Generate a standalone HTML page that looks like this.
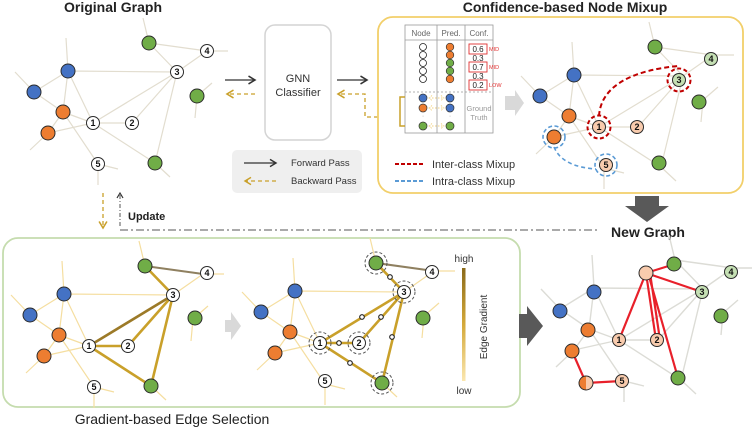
<!DOCTYPE html>
<html><head><meta charset="utf-8"><style>
body{margin:0;background:#fff}
svg{display:block;font-family:"Liberation Sans",sans-serif}
.e{stroke:#e2ddcf;stroke-width:1.2;fill:none}
.ey{stroke:#f5dea0;stroke-width:1.2;fill:none}
.eg{stroke:#c9a02a;stroke-width:2.6;fill:none}
.ex{stroke:#dcdcd6;stroke-width:1.4;fill:none}
.nd{stroke:#2b2b2b;stroke-width:1}
.t{font-size:9px;text-anchor:middle;dominant-baseline:central;fill:#111;font-weight:bold}
</style></head><body>
<svg width="752" height="429" viewBox="0 0 752 429" xmlns="http://www.w3.org/2000/svg">
<defs>
<marker id="ab" markerWidth="8" markerHeight="8" refX="6" refY="4" orient="auto"><path d="M1,1 L6,4 L1,7" fill="none" stroke="#333" stroke-width="1.2"/></marker>
<marker id="ay" markerWidth="8" markerHeight="8" refX="6" refY="4" orient="auto"><path d="M1,1 L6,4 L1,7" fill="none" stroke="#c9a02a" stroke-width="1.2"/></marker>
<linearGradient id="cb" x1="0" y1="0" x2="0" y2="1"><stop offset="0" stop-color="#8a6a1a"/><stop offset="0.5" stop-color="#d4a93a"/><stop offset="1" stop-color="#fbe7b0"/></linearGradient>
</defs>

<text x="113" y="12" font-size="14" font-weight="bold" text-anchor="middle" fill="#222">Original Graph</text>
<text x="565" y="12" font-size="14" font-weight="bold" text-anchor="middle" fill="#222">Confidence-based Node Mixup</text>
<text x="648" y="237" font-size="14" font-weight="bold" text-anchor="middle" fill="#222">New Graph</text>
<text x="172" y="424" font-size="14" text-anchor="middle" fill="#222">Gradient-based Edge Selection</text>

<g>
<path class="e" d="M68,71L34,92M68,71L63,112M68,71L93,123M68,71L177,72M34,92L63,112M63,112L93,123M63,112L48,133M63,112L98,164M48,133L93,123M93,123L132,123M93,123L177,72M93,123L155,163M132,123L177,72M177,72L149,43M177,72L207,51M177,72L155,163M149,43L207,51M68,71L66,38M34,92L15,72M48,133L30,150M149,43L143,18M207,51L228,51M197,96L212,83M197,96L195,118M155,163L170,177M98,164L98,185M98,164L118,169"/>
<circle class="nd" cx="68" cy="71" r="7" fill="#4472c4"/><circle class="nd" cx="34" cy="92" r="7" fill="#4472c4"/>
<circle class="nd" cx="63" cy="112" r="7" fill="#ed7d31"/><circle class="nd" cx="48" cy="133" r="7" fill="#ed7d31"/>
<circle class="nd" cx="149" cy="43" r="7" fill="#70ad47"/><circle class="nd" cx="197" cy="96" r="7" fill="#70ad47"/><circle class="nd" cx="155" cy="163" r="7" fill="#70ad47"/>
<circle class="nd" cx="93" cy="123" r="6.5" fill="#fff"/><text class="t" x="93" y="123">1</text>
<circle class="nd" cx="132" cy="123" r="6.5" fill="#fff"/><text class="t" x="132" y="123">2</text>
<circle class="nd" cx="177" cy="72" r="6.5" fill="#fff"/><text class="t" x="177" y="72">3</text>
<circle class="nd" cx="207" cy="51" r="6.5" fill="#fff"/><text class="t" x="207" y="51">4</text>
<circle class="nd" cx="98" cy="164" r="6.5" fill="#fff"/><text class="t" x="98" y="164">5</text>
</g>

<rect x="265" y="25" width="66" height="115" rx="10" fill="#fff" stroke="#d4d4d4" stroke-width="1.5"/>
<text x="298" y="82" font-size="11" text-anchor="middle" fill="#333">GNN</text>
<text x="298" y="96" font-size="11" text-anchor="middle" fill="#333">Classifier</text>
<line x1="225" y1="80" x2="255" y2="80" stroke="#333" stroke-width="1.3" marker-end="url(#ab)"/>
<line x1="255" y1="94" x2="227" y2="94" stroke="#c9a02a" stroke-width="1.3" stroke-dasharray="4,3" marker-end="url(#ay)"/>
<line x1="337" y1="80" x2="367" y2="80" stroke="#333" stroke-width="1.3" marker-end="url(#ab)"/>
<path d="M392,117 L365,117 L365,94 L338,94" fill="none" stroke="#c9a02a" stroke-width="1.3" stroke-dasharray="4,3" marker-end="url(#ay)"/>
<rect x="232" y="150" width="130" height="43" rx="5" fill="#efefef"/>
<line x1="244" y1="163" x2="276" y2="163" stroke="#333" stroke-width="1.2" marker-end="url(#ab)"/>
<line x1="276" y1="181" x2="245" y2="181" stroke="#c9a02a" stroke-width="1.2" stroke-dasharray="4,3" marker-end="url(#ay)"/>
<text x="291" y="166" font-size="9.5" fill="#333">Forward Pass</text>
<text x="291" y="184" font-size="9.5" fill="#333">Backward Pass</text>

<line x1="103" y1="193" x2="103" y2="228" stroke="#c9a02a" stroke-width="1.3" stroke-dasharray="4,3" marker-end="url(#ay)"/>
<line x1="120" y1="226" x2="120" y2="193" stroke="#555" stroke-width="1" stroke-dasharray="4,2,1,2" marker-end="url(#ab)"/>
<text x="128" y="220" font-size="11" font-weight="bold" fill="#222">Update</text>
<line x1="120" y1="230" x2="600" y2="230" stroke="#777" stroke-width="1.2" stroke-dasharray="8,3,2,3"/>

<rect x="378" y="17" width="365" height="176" rx="15" fill="#fff" stroke="#f2cf6a" stroke-width="1.8"/>
<g stroke="#9a9a9a" stroke-width="0.8" fill="none">
<rect x="405" y="25" width="88" height="108"/>
<line x1="437" y1="25" x2="437" y2="133"/><line x1="465" y1="25" x2="465" y2="133"/>
<line x1="405" y1="40" x2="493" y2="40"/>
</g>
<line x1="405" y1="92" x2="493" y2="92" stroke="#999" stroke-width="0.8" stroke-dasharray="2,2"/>
<text x="421" y="36" font-size="8" text-anchor="middle" fill="#666">Node</text>
<text x="451" y="36" font-size="8" text-anchor="middle" fill="#666">Pred.</text>
<text x="479" y="36" font-size="8" text-anchor="middle" fill="#666">Conf.</text>
<g stroke="#222" stroke-width="0.8" fill="#fff">
<circle cx="423" cy="47" r="3.5"/><circle cx="423" cy="55" r="3.5"/><circle cx="423" cy="63" r="3.5"/><circle cx="423" cy="71" r="3.5"/><circle cx="423" cy="79" r="3.5"/>
</g>
<g stroke="#333" stroke-width="0.7">
<circle cx="450" cy="47" r="3.8" fill="#ed7d31"/><circle cx="450" cy="55" r="3.8" fill="#ed7d31"/><circle cx="450" cy="63" r="3.8" fill="#70ad47"/><circle cx="450" cy="71" r="3.8" fill="#70ad47"/><circle cx="450" cy="79" r="3.8" fill="#ed7d31"/>
<circle cx="423" cy="98" r="4" fill="#4472c4"/><circle cx="450" cy="98" r="4" fill="#4472c4"/>
<circle cx="423" cy="108" r="4" fill="#ed7d31"/><circle cx="450" cy="108" r="4" fill="#4472c4"/>
<circle cx="423" cy="126" r="4" fill="#70ad47"/><circle cx="450" cy="126" r="4" fill="#70ad47"/>
</g>
<g stroke="#f0d080" stroke-width="0.9" stroke-dasharray="1.5,1.5" fill="none">
<path d="M429,98H444M432,95.5L429,98L432,100.5M441,95.5L444,98L441,100.5"/>
<path d="M429,108H444M432,105.5L429,108L432,110.5M441,105.5L444,108L441,110.5"/>
<path d="M429,126H444M432,123.5L429,126L432,128.5M441,123.5L444,126L441,128.5"/>
</g>
<text x="423" y="118" font-size="7" fill="#999" text-anchor="middle">·</text>
<text x="450" y="118" font-size="7" fill="#999" text-anchor="middle">·</text>
<text x="479" y="111" font-size="7.5" fill="#999" text-anchor="middle">Ground</text>
<text x="479" y="120" font-size="7.5" fill="#999" text-anchor="middle">Truth</text>
<g font-size="8" fill="#222" text-anchor="middle">
<text x="478" y="52">0.6</text><text x="478" y="61">0.3</text><text x="478" y="70">0.7</text><text x="478" y="79">0.3</text><text x="478" y="88">0.2</text>
</g>
<g stroke="#e03030" stroke-width="0.9" fill="none"><rect x="469" y="44" width="18" height="10"/><rect x="469" y="62" width="18" height="10"/><rect x="469" y="80" width="18" height="10"/></g>
<g font-size="5.5" fill="#e03030"><text x="489" y="51">MID</text><text x="489" y="69">MID</text><text x="489" y="87">LOW</text></g>
<path d="M405,97 H400 V126 H405" fill="none" stroke="#c9a02a" stroke-width="1.5"/>
<path d="M505,96 h10 v-6 l9,13 l-9,13 v-6 h-10z" fill="#d9d9d9"/>
<line x1="395" y1="164" x2="425" y2="164" stroke="#c00000" stroke-width="2" stroke-dasharray="4,2"/>
<line x1="395" y1="181" x2="425" y2="181" stroke="#5b9bd5" stroke-width="2" stroke-dasharray="4,2"/>
<text x="432" y="168" font-size="11" fill="#333">Inter-class Mixup</text>
<text x="432" y="185" font-size="11" fill="#333">Intra-class Mixup</text>

<g transform="translate(506,4)">
<path class="e" d="M68,71L34,92M68,71L63,112M68,71L93,123M68,71L177,72M34,92L63,112M63,112L93,123M63,112L48,133M63,112L98,164M48,133L93,123M93,123L132,123M93,123L177,72M93,123L155,163M132,123L177,72M177,72L149,43M177,72L207,51M177,72L155,163M149,43L207,51M68,71L66,38M34,92L15,72M48,133L30,150M149,43L143,18M207,51L228,51M197,96L212,83M197,96L195,118M155,163L170,177M98,164L98,185M98,164L118,169"/>
<path d="M93,112 C95,80 130,66 172,62" fill="none" stroke="#c00000" stroke-width="2" stroke-dasharray="5,3"/>
<path d="M48,143 C55,160 75,164 90,165" fill="none" stroke="#5b9bd5" stroke-width="1.6" stroke-dasharray="4,3"/>
<circle cx="93" cy="123" r="11.5" fill="none" stroke="#c00000" stroke-width="2" stroke-dasharray="4,2.5"/>
<circle cx="173" cy="76" r="11.5" fill="none" stroke="#c00000" stroke-width="2" stroke-dasharray="4,2.5"/>
<circle cx="48" cy="133" r="11" fill="none" stroke="#5b9bd5" stroke-width="1.6" stroke-dasharray="4,2.5"/>
<circle cx="100" cy="161" r="11" fill="none" stroke="#5b9bd5" stroke-width="1.6" stroke-dasharray="4,2.5"/>
<circle class="nd" cx="68" cy="71" r="7" fill="#4472c4"/><circle class="nd" cx="34" cy="92" r="7" fill="#4472c4"/>
<circle class="nd" cx="63" cy="112" r="7" fill="#ed7d31"/><circle class="nd" cx="48" cy="133" r="7" fill="#ed7d31"/>
<circle class="nd" cx="149" cy="43" r="7" fill="#70ad47"/><circle class="nd" cx="193" cy="98" r="7" fill="#70ad47"/><circle class="nd" cx="153" cy="159" r="7" fill="#70ad47"/>
<circle class="nd" cx="93" cy="123" r="6.5" fill="#f8cbad"/><text class="t" x="93" y="123">1</text>
<circle class="nd" cx="131" cy="123" r="6.5" fill="#f8cbad"/><text class="t" x="131" y="123">2</text>
<circle class="nd" cx="173" cy="76" r="6.5" fill="#c5e0b4"/><text class="t" x="173" y="76">3</text>
<circle class="nd" cx="205" cy="55" r="6.5" fill="#c5e0b4"/><text class="t" x="205" y="55">4</text>
<circle class="nd" cx="100" cy="161" r="6.5" fill="#f8cbad"/><text class="t" x="100" y="161">5</text>
</g>

<path d="M635,196 h24 v10 h10 l-22,16 l-22,-16 h10z" fill="#595959"/>

<rect x="3" y="238" width="517" height="169" rx="15" fill="#fff" stroke="#c5dcae" stroke-width="1.8"/>

<g transform="translate(-4,223)">
<path class="ey" d="M68,71L34,92M68,71L63,112M68,71L93,123M68,71L177,72M34,92L63,112M63,112L93,123M63,112L48,133M63,112L98,164M48,133L93,123M68,71L66,38M34,92L15,72M48,133L30,150M149,43L143,18M207,51L228,51M197,96L212,83M197,96L195,118M155,163L170,177M98,164L98,185M98,164L118,169M177,72L207,51"/>
<path class="eg" d="M93,123L132,123M93,123L155,163M132,123L177,72M177,72L149,43M177,72L155,163"/>
<path d="M93,123L177,72" stroke="#9c7a28" stroke-width="2.6" fill="none"/>
<path d="M149,43L207,51" stroke="#8f8060" stroke-width="2" fill="none"/>
<circle class="nd" cx="68" cy="71" r="7" fill="#4472c4"/><circle class="nd" cx="34" cy="92" r="7" fill="#4472c4"/>
<circle class="nd" cx="63" cy="112" r="7" fill="#ed7d31"/><circle class="nd" cx="48" cy="133" r="7" fill="#ed7d31"/>
<circle class="nd" cx="149" cy="43" r="7" fill="#70ad47"/><circle class="nd" cx="199" cy="95" r="7" fill="#70ad47"/><circle class="nd" cx="155" cy="163" r="7" fill="#70ad47"/>
<circle class="nd" cx="93" cy="123" r="6.5" fill="#fff"/><text class="t" x="93" y="123">1</text>
<circle class="nd" cx="132" cy="123" r="6.5" fill="#fff"/><text class="t" x="132" y="123">2</text>
<circle class="nd" cx="177" cy="72" r="6.5" fill="#fff"/><text class="t" x="177" y="72">3</text>
<circle class="nd" cx="211" cy="50" r="6.5" fill="#fff"/><text class="t" x="211" y="50">4</text>
<circle class="nd" cx="98" cy="164" r="6.5" fill="#fff"/><text class="t" x="98" y="164">5</text>
</g>

<path d="M225,320 h6 v-8 l10,14 l-10,14 v-8 h-6z" fill="#d9d9d9"/>

<g transform="translate(227,220)">
<path class="ey" d="M68,71L34,92M68,71L63,112M68,71L93,123M68,71L177,72M34,92L63,112M63,112L93,123M63,112L48,133M63,112L98,164M48,133L93,123M68,71L66,38M34,92L15,72M48,133L30,150M149,43L143,18M207,51L228,51M197,96L212,83M197,96L195,118M155,163L170,177M98,164L98,185M98,164L118,169M177,72L207,51"/>
<path class="eg" d="M93,123L177,72M93,123L132,123M93,123L155,163M132,123L177,72M177,72L149,43M177,72L155,163"/>
<path d="M149,43L207,51" stroke="#8f8060" stroke-width="2" fill="none"/>
<g fill="none" stroke="#555" stroke-width="1" stroke-dasharray="3,2">
<circle cx="93" cy="123" r="11"/><circle cx="132" cy="123" r="11"/><circle cx="177" cy="72" r="11"/><circle cx="149" cy="43" r="11"/><circle cx="155" cy="163" r="11"/>
</g>
<circle class="nd" cx="68" cy="71" r="7" fill="#4472c4"/><circle class="nd" cx="34" cy="92" r="7" fill="#4472c4"/>
<circle class="nd" cx="63" cy="112" r="7" fill="#ed7d31"/><circle class="nd" cx="48" cy="133" r="7" fill="#ed7d31"/>
<circle class="nd" cx="149" cy="43" r="7" fill="#70ad47"/><circle class="nd" cx="196" cy="98" r="7" fill="#70ad47"/><circle class="nd" cx="155" cy="163" r="7" fill="#70ad47"/>
<circle class="nd" cx="93" cy="123" r="6.5" fill="#fff"/><text class="t" x="93" y="123">1</text>
<circle class="nd" cx="132" cy="123" r="6.5" fill="#fff"/><text class="t" x="132" y="123">2</text>
<circle class="nd" cx="177" cy="72" r="6.5" fill="#fff"/><text class="t" x="177" y="72">3</text>
<circle class="nd" cx="205" cy="52" r="6.5" fill="#fff"/><text class="t" x="205" y="52">4</text>
<circle class="nd" cx="98" cy="161" r="6.5" fill="#fff"/><text class="t" x="98" y="161">5</text>
<g fill="#fff" stroke="#222" stroke-width="1.1">
<circle cx="163" cy="57" r="2.3"/><circle cx="135" cy="97" r="2.3"/><circle cx="154" cy="97" r="2.3"/><circle cx="165" cy="117" r="2.3"/><circle cx="112" cy="123" r="2.3"/><circle cx="123" cy="143" r="2.3"/>
</g>
</g>

<rect x="462" y="268" width="3.5" height="113" fill="url(#cb)"/>
<text x="464" y="262" font-size="10" text-anchor="middle" fill="#333">high</text>
<text x="464" y="394" font-size="10" text-anchor="middle" fill="#333">low</text>
<text x="0" y="0" font-size="10" text-anchor="middle" fill="#333" transform="translate(487,327) rotate(-90)">Edge Gradient</text>

<path d="M519,314 h8 v-8 l16,20 l-16,20 v-8 h-8z" fill="#595959"/>

<g transform="translate(526,217)">
<path class="ex" d="M68,71L34,92M68,71L63,112M68,71L93,123M68,71L177,72M34,92L63,112M63,112L93,123M63,112L48,133M63,112L98,164M48,133L93,123M93,123L132,123M93,123L177,72M93,123L155,163M132,123L177,72M177,72L149,43M177,72L207,51M177,72L155,163M149,43L207,51M68,71L66,38M34,92L15,72M48,133L30,150M149,43L143,18M207,51L228,51M197,96L212,83M197,96L195,118M155,163L170,177M98,164L98,185M98,164L118,169"/>
<g stroke="#e8202a" stroke-width="2.2" fill="none">
<path d="M120,56L149,47M120,56L93,123M120,56L130,123M124,56L134,123M120,56L176,75M122,56L152,161M46,134L60,166L96,164"/>
</g>
<circle class="nd" cx="68" cy="75" r="7" fill="#4472c4"/><circle class="nd" cx="34" cy="94" r="7" fill="#4472c4"/>
<circle class="nd" cx="62" cy="113" r="7" fill="#ed7d31"/><circle class="nd" cx="46" cy="134" r="7" fill="#ed7d31"/>
<circle class="nd" cx="148" cy="47" r="7" fill="#70ad47"/><circle class="nd" cx="195" cy="99" r="7" fill="#70ad47"/><circle class="nd" cx="152" cy="161" r="7" fill="#70ad47"/>
<circle class="nd" cx="120" cy="56" r="7" fill="#f8cbad"/>
<circle cx="60" cy="166" r="7" fill="#f8cbad"/><path d="M60,159 A7,7 0 0 0 60,173Z" fill="#ed7d31"/><circle class="nd" cx="60" cy="166" r="7" fill="none"/>
<circle class="nd" cx="93" cy="123" r="6.5" fill="#f8cbad"/><text class="t" x="93" y="123">1</text>
<circle class="nd" cx="131" cy="123" r="6.5" fill="#f8cbad"/><text class="t" x="131" y="123">2</text>
<circle class="nd" cx="176" cy="75" r="6.5" fill="#c5e0b4"/><text class="t" x="176" y="75">3</text>
<circle class="nd" cx="205" cy="55" r="6.5" fill="#c5e0b4"/><text class="t" x="205" y="55">4</text>
<circle class="nd" cx="96" cy="164" r="6.5" fill="#f8cbad"/><text class="t" x="96" y="164">5</text>
</g>
</svg>
</body></html>
